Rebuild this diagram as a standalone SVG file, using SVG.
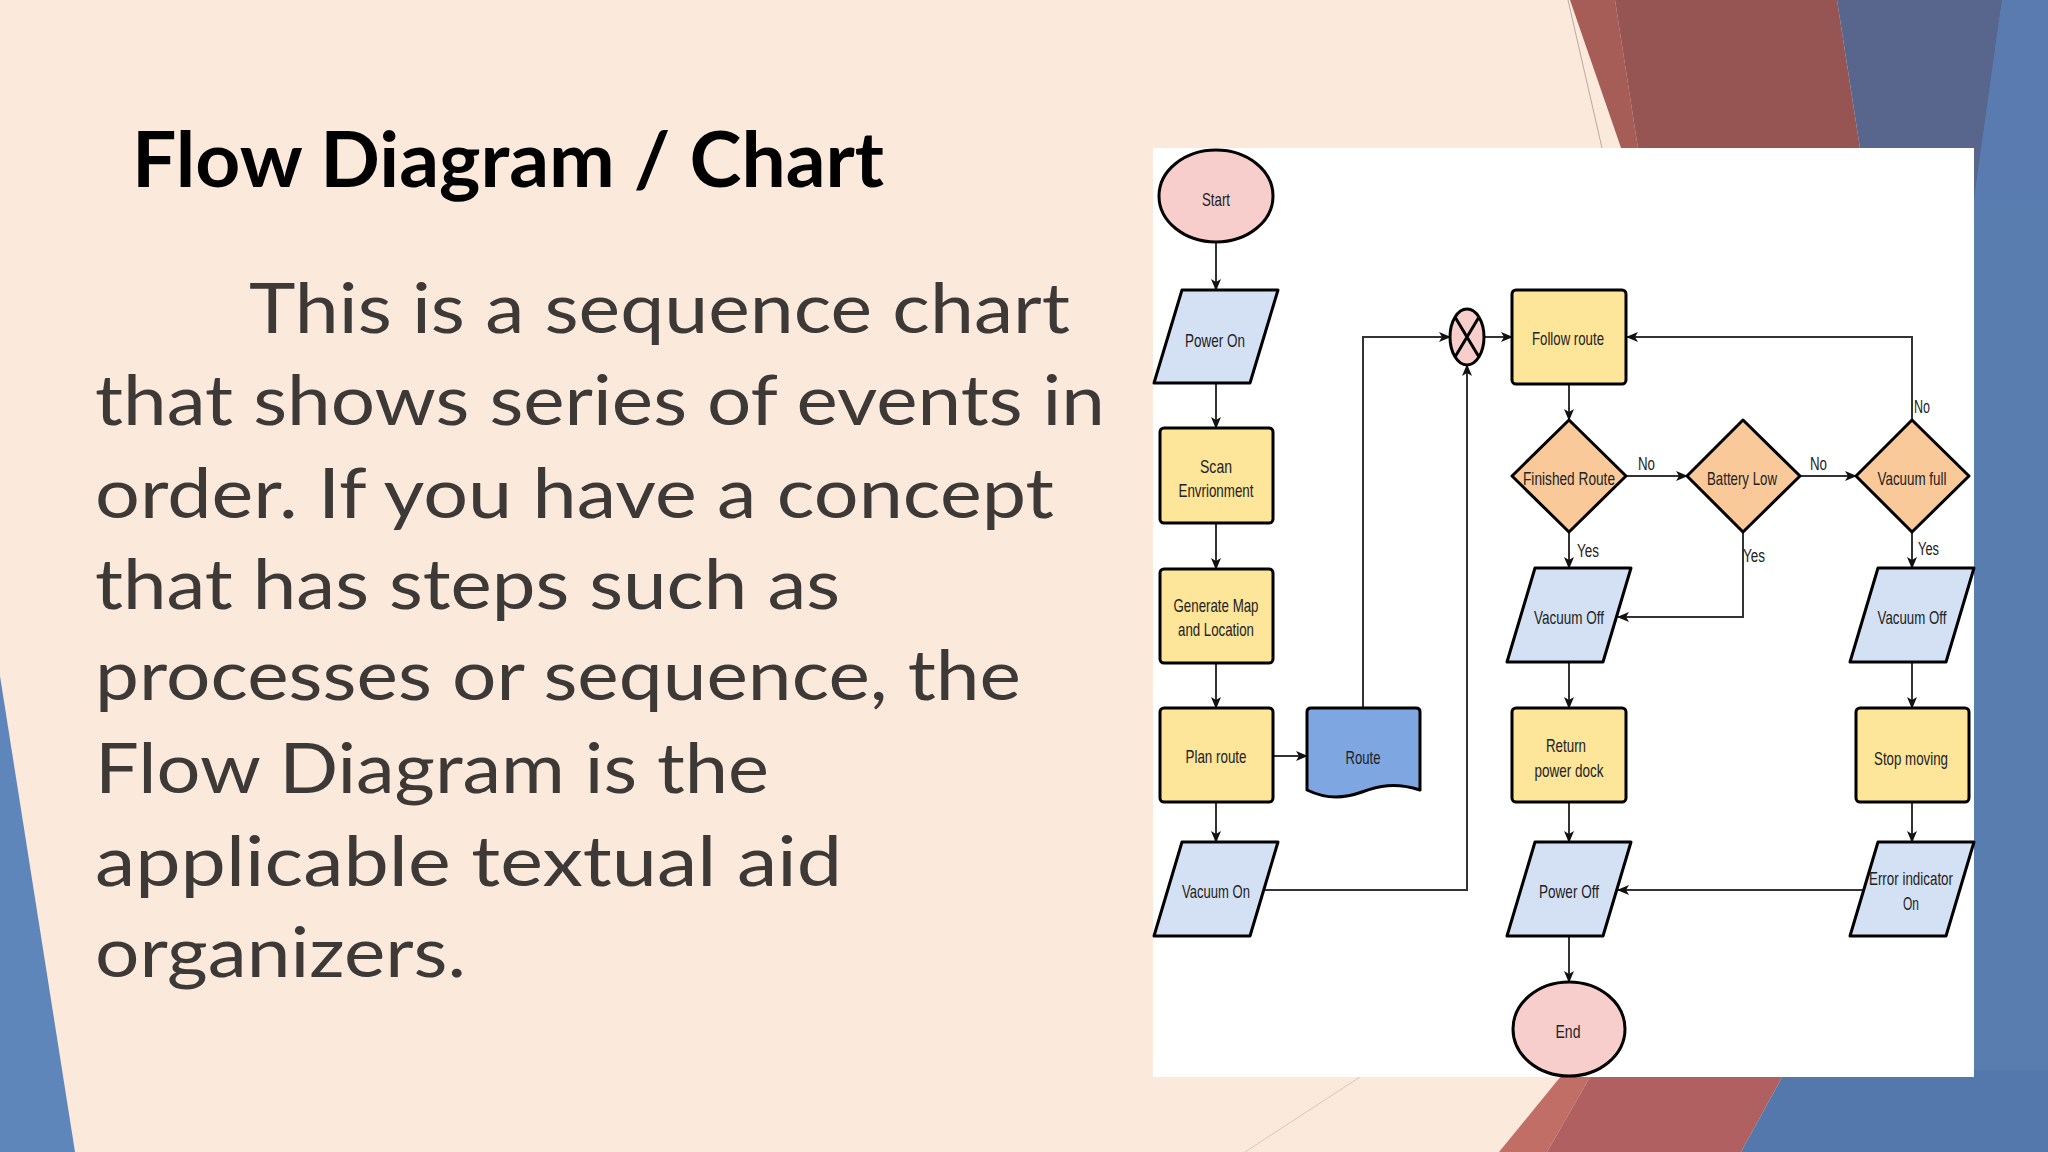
<svg xmlns="http://www.w3.org/2000/svg" width="2048" height="1152" viewBox="0 0 2048 1152">
<defs>
<style>
.title{font-family:Lato,"Open Sans","Liberation Sans",sans-serif;font-weight:bold;font-size:76px;fill:#000}
.body{font-family:Lato,"Open Sans","Liberation Sans",sans-serif;font-size:70px;fill:#3d3936}
.lbl{font-family:"Liberation Sans",Arial,sans-serif;font-size:19px;fill:#222;text-anchor:middle}
.yn{font-family:"Liberation Sans",Arial,sans-serif;font-size:18px;fill:#222}
.term{fill:#f8cecc;stroke:#000;stroke-width:3}
.io{fill:#d4e1f5;stroke:#000;stroke-width:3;stroke-linejoin:round}
.proc{fill:#fde59a;stroke:#000;stroke-width:3}
.dec{fill:#f9c99a;stroke:#000;stroke-width:3;stroke-linejoin:round}
.doc{fill:#7ea6e0;stroke:#000;stroke-width:3;stroke-linejoin:round}
.conn{fill:none;stroke:#333;stroke-width:2}
</style>
<marker id="arr" markerUnits="userSpaceOnUse" markerWidth="12" markerHeight="12" viewBox="0 0 12 12" refX="11" refY="6" orient="auto">
<path d="M0,1 L12,6 L0,11 L3,6 Z" fill="#111"/>
</marker>
</defs>

<!-- background -->
<rect x="0" y="0" width="2048" height="1152" fill="#fbe9db"/>
<rect x="1950" y="0" width="98" height="1152" fill="#5a7db0"/>
<polygon points="1570,0 1615,0 1646,200 1639,200" fill="#a75d57"/>
<polygon points="1615,0 1837,0 1868,200 1646,200" fill="#965452"/>
<polygon points="1837,0 2002,0 1974,200 1868,200" fill="#58668e"/>
<polygon points="2002,0 2048,0 2048,200 1974,200" fill="#5a7baf"/>
<line x1="1568" y1="0" x2="1602" y2="148" stroke="#b8aaa0" stroke-width="1"/>
<polygon points="0,676 75,1152 0,1152" fill="#5f86ba"/>
<line x1="1360" y1="1077" x2="1245" y2="1152" stroke="#d8c8bb" stroke-width="1"/>
<polygon points="1566,1070 1594,1070 1547,1152 1499,1152" fill="#c06e66"/>
<polygon points="1594,1070 1786,1070 1741,1152 1547,1152" fill="#b06060"/>
<polygon points="1786,1070 2048,1070 2048,1152 1741,1152" fill="#5478ac"/>

<!-- slide text -->
<text class="title" x="132" y="187" textLength="752" lengthAdjust="spacingAndGlyphs">Flow Diagram / Chart</text>
<g id="body-text">
<text class="body" x="249" y="333" textLength="821" lengthAdjust="spacingAndGlyphs">This is a sequence chart</text>
<text class="body" x="95" y="425" textLength="1010" lengthAdjust="spacingAndGlyphs">that shows series of events in</text>
<text class="body" x="95" y="518" textLength="959" lengthAdjust="spacingAndGlyphs">order. If you have a concept</text>
<text class="body" x="95" y="609" textLength="745" lengthAdjust="spacingAndGlyphs">that has steps such as</text>
<text class="body" x="95" y="700" textLength="926" lengthAdjust="spacingAndGlyphs">processes or sequence, the</text>
<text class="body" x="95" y="793" textLength="674" lengthAdjust="spacingAndGlyphs">Flow Diagram is the</text>
<text class="body" x="95" y="886" textLength="747" lengthAdjust="spacingAndGlyphs">applicable textual aid</text>
<text class="body" x="95" y="977" textLength="371" lengthAdjust="spacingAndGlyphs">organizers.</text>
</g>

<!-- diagram panel -->
<rect x="1153" y="148" width="821" height="929" fill="#ffffff"/>

<g id="connectors">
<path class="conn" d="M1216,242 V290" marker-end="url(#arr)"/>
<path class="conn" d="M1216,383 V428" marker-end="url(#arr)"/>
<path class="conn" d="M1216,523 V569" marker-end="url(#arr)"/>
<path class="conn" d="M1216,663 V708" marker-end="url(#arr)"/>
<path class="conn" d="M1216,802 V842" marker-end="url(#arr)"/>
<path class="conn" d="M1273,756 H1307" marker-end="url(#arr)"/>
<path class="conn" d="M1363,708 V337 H1450" marker-end="url(#arr)"/>
<path class="conn" d="M1264,890 H1467 V365" marker-end="url(#arr)"/>
<path class="conn" d="M1484,337 H1512" marker-end="url(#arr)"/>
<path class="conn" d="M1569,384 V420" marker-end="url(#arr)"/>
<path class="conn" d="M1626,476 H1687" marker-end="url(#arr)"/>
<path class="conn" d="M1800,476 H1856" marker-end="url(#arr)"/>
<path class="conn" d="M1912,420 V337 H1627" marker-end="url(#arr)"/>
<path class="conn" d="M1569,532 V568" marker-end="url(#arr)"/>
<path class="conn" d="M1743,532 V617 H1618" marker-end="url(#arr)"/>
<path class="conn" d="M1912,532 V568" marker-end="url(#arr)"/>
<path class="conn" d="M1569,662 V708" marker-end="url(#arr)"/>
<path class="conn" d="M1569,802 V842" marker-end="url(#arr)"/>
<path class="conn" d="M1912,662 V708" marker-end="url(#arr)"/>
<path class="conn" d="M1912,802 V842" marker-end="url(#arr)"/>
<path class="conn" d="M1864,890 H1618" marker-end="url(#arr)"/>
<path class="conn" d="M1569,936 V982" marker-end="url(#arr)"/>
<text class="yn" x="1638" y="470" textLength="17" lengthAdjust="spacingAndGlyphs">No</text>
<text class="yn" x="1810" y="470" textLength="17" lengthAdjust="spacingAndGlyphs">No</text>
<text class="yn" x="1914" y="413" textLength="16" lengthAdjust="spacingAndGlyphs">No</text>
<text class="yn" x="1577" y="557" textLength="22" lengthAdjust="spacingAndGlyphs">Yes</text>
<text class="yn" x="1743" y="562" textLength="22" lengthAdjust="spacingAndGlyphs">Yes</text>
<text class="yn" x="1918" y="555" textLength="21" lengthAdjust="spacingAndGlyphs">Yes</text>
</g>

<g id="start">
<ellipse class="term" cx="1216" cy="196" rx="57" ry="46"/>
<text class="lbl" x="1216" y="206" textLength="28" lengthAdjust="spacingAndGlyphs">Start</text>
</g>
<g id="power-on">
<polygon class="io" points="1182,290 1278,290 1250,383 1154,383"/>
<text class="lbl" x="1215" y="347" textLength="60" lengthAdjust="spacingAndGlyphs">Power On</text>
</g>
<g id="scan">
<rect class="proc" x="1160" y="428" width="113" height="95" rx="4"/>
<text class="lbl" x="1216" y="473" textLength="32" lengthAdjust="spacingAndGlyphs">Scan</text>
<text class="lbl" x="1216" y="497" textLength="75" lengthAdjust="spacingAndGlyphs">Envrionment</text>
</g>
<g id="generate-map">
<rect class="proc" x="1160" y="569" width="113" height="94" rx="4"/>
<text class="lbl" x="1216" y="612" textLength="85" lengthAdjust="spacingAndGlyphs">Generate Map</text>
<text class="lbl" x="1216" y="636" textLength="76" lengthAdjust="spacingAndGlyphs">and Location</text>
</g>
<g id="plan-route">
<rect class="proc" x="1160" y="708" width="113" height="94" rx="4"/>
<text class="lbl" x="1216" y="763" textLength="61" lengthAdjust="spacingAndGlyphs">Plan route</text>
</g>
<g id="route">
<path class="doc" d="M1311,708 H1416 Q1420,708 1420,712 V790 C1395,782 1378,786 1362,792 C1345,798 1328,800 1307,790 V712 Q1307,708 1311,708 Z"/>
<text class="lbl" x="1363" y="764" textLength="35" lengthAdjust="spacingAndGlyphs">Route</text>
</g>
<g id="vacuum-on">
<polygon class="io" points="1182,842 1278,842 1250,936 1154,936"/>
<text class="lbl" x="1216" y="898" textLength="68" lengthAdjust="spacingAndGlyphs">Vacuum On</text>
</g>
<g id="merge">
<ellipse class="term" cx="1467" cy="337" rx="17" ry="28"/>
<path d="M1455,317 L1479,357 M1479,317 L1455,357" stroke="#000" stroke-width="3"/>
</g>
<g id="follow-route">
<rect class="proc" x="1512" y="290" width="114" height="94" rx="4"/>
<text class="lbl" x="1568" y="345" textLength="72" lengthAdjust="spacingAndGlyphs">Follow route</text>
</g>
<g id="finished-route">
<polygon class="dec" points="1569,420 1626,476 1569,532 1512,476"/>
<text class="lbl" transform="translate(1569,485) scale(0.72,1)" x="0" y="0">Finished Route</text>
</g>
<g id="battery-low">
<polygon class="dec" points="1743,420 1800,476 1743,532 1687,476"/>
<text class="lbl" x="1742" y="485" textLength="70" lengthAdjust="spacingAndGlyphs">Battery Low</text>
</g>
<g id="vacuum-full">
<polygon class="dec" points="1912,420 1969,476 1912,532 1856,476"/>
<text class="lbl" x="1912" y="485" textLength="69" lengthAdjust="spacingAndGlyphs">Vacuum full</text>
</g>
<g id="vacuum-off-1">
<polygon class="io" points="1535,568 1631,568 1603,662 1507,662"/>
<text class="lbl" x="1569" y="624" textLength="70" lengthAdjust="spacingAndGlyphs">Vacuum Off</text>
</g>
<g id="vacuum-off-2">
<polygon class="io" points="1878,568 1974,568 1946,662 1850,662"/>
<text class="lbl" x="1912" y="624" textLength="69" lengthAdjust="spacingAndGlyphs">Vacuum Off</text>
</g>
<g id="return-dock">
<rect class="proc" x="1512" y="708" width="114" height="94" rx="4"/>
<text class="lbl" x="1566" y="752" textLength="40" lengthAdjust="spacingAndGlyphs">Return</text>
<text class="lbl" x="1569" y="777" textLength="69" lengthAdjust="spacingAndGlyphs">power dock</text>
</g>
<g id="stop-moving">
<rect class="proc" x="1856" y="708" width="113" height="94" rx="4"/>
<text class="lbl" x="1911" y="765" textLength="74" lengthAdjust="spacingAndGlyphs">Stop moving</text>
</g>
<g id="power-off">
<polygon class="io" points="1535,842 1631,842 1603,936 1507,936"/>
<text class="lbl" x="1569" y="898" textLength="60" lengthAdjust="spacingAndGlyphs">Power Off</text>
</g>
<g id="error-indicator">
<polygon class="io" points="1878,842 1974,842 1946,936 1850,936"/>
<text class="lbl" x="1911" y="885" textLength="84" lengthAdjust="spacingAndGlyphs">Error indicator</text>
<text class="lbl" x="1911" y="910" textLength="16" lengthAdjust="spacingAndGlyphs">On</text>
</g>
<g id="end">
<ellipse class="term" cx="1569" cy="1029" rx="56" ry="47"/>
<text class="lbl" x="1568" y="1038" textLength="25" lengthAdjust="spacingAndGlyphs">End</text>
</g>
</svg>
